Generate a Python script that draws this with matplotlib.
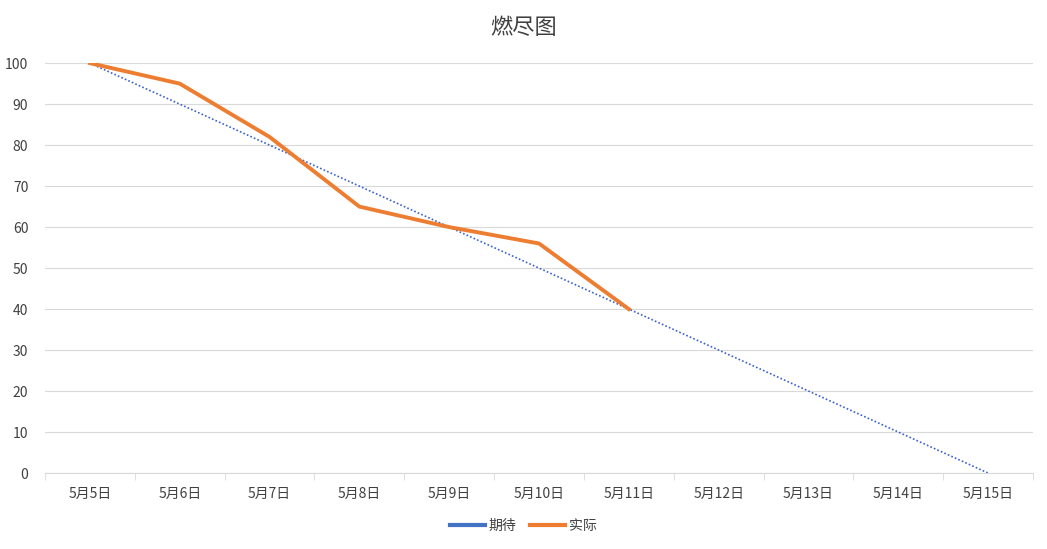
import matplotlib
matplotlib.use("Agg")
import matplotlib.pyplot as plt
from matplotlib.lines import Line2D

plt.rcParams['font.family'] = ['Noto Sans CJK SC', 'DejaVu Sans']

categories = ["5月5日","5月6日","5月7日","5月8日","5月9日","5月10日","5月11日","5月12日","5月13日","5月14日","5月15日"]
expected = [100, 90, 80, 70, 60, 50, 40, 30, 20, 10, 0]
actual = [100, 95, 82, 65, 60, 56, 40]
yticks = [0, 10, 20, 30, 40, 50, 60, 70, 80, 90, 100]

blue = "#4472C4"
orange = "#ED7D31"

fig = plt.figure(figsize=(10.47, 5.49), dpi=100)
ax = fig.add_axes([0.043, 0.1384, 0.9436, 0.7466])
x = list(range(len(categories)))
ax.plot(x, expected, color="#3A62CC", linestyle=(0, (1, 1.3)), linewidth=1.2)
ax.plot(x[:len(actual)], actual, color=orange, linewidth=2.8, solid_joinstyle='round')

ax.set_xlim(-0.5, len(categories) - 0.5)
ax.set_ylim(0, 100)
ax.set_yticks(yticks)
ax.set_yticklabels([str(v) for v in yticks], fontsize=10, color="#404040")
ax.set_xticks(x)
ax.set_xticklabels(categories, fontsize=10, color="#404040")
ax.tick_params(axis='x', length=0, pad=10)
ax.tick_params(axis='y', length=0, pad=12)
ax.set_xticks([i - 0.5 for i in range(len(categories) + 1)], minor=True)
ax.tick_params(axis='x', which='minor', length=5, color="#D9D9D9", direction='out')
for s in ['top', 'right', 'left']:
    ax.spines[s].set_visible(False)
ax.spines['bottom'].set_color("#D9D9D9")
ax.grid(axis='y', color="#D9D9D9", linewidth=0.8)
ax.set_axisbelow(True)

fig.text(0.5, 0.95, "燃尽图", ha='center', va='center', fontsize=16, color="#404040")
handles = [Line2D([], [], color=blue, linewidth=3), Line2D([], [], color=orange, linewidth=3)]
fig.legend(handles, ["期待", "实际"], loc='center', bbox_to_anchor=(0.5, 0.042), ncol=2,
           frameon=False, fontsize=10, handlelength=2.5, handletextpad=0.3, columnspacing=1.0,
           labelcolor="#404040")
fig.savefig("out.png", dpi=100)
